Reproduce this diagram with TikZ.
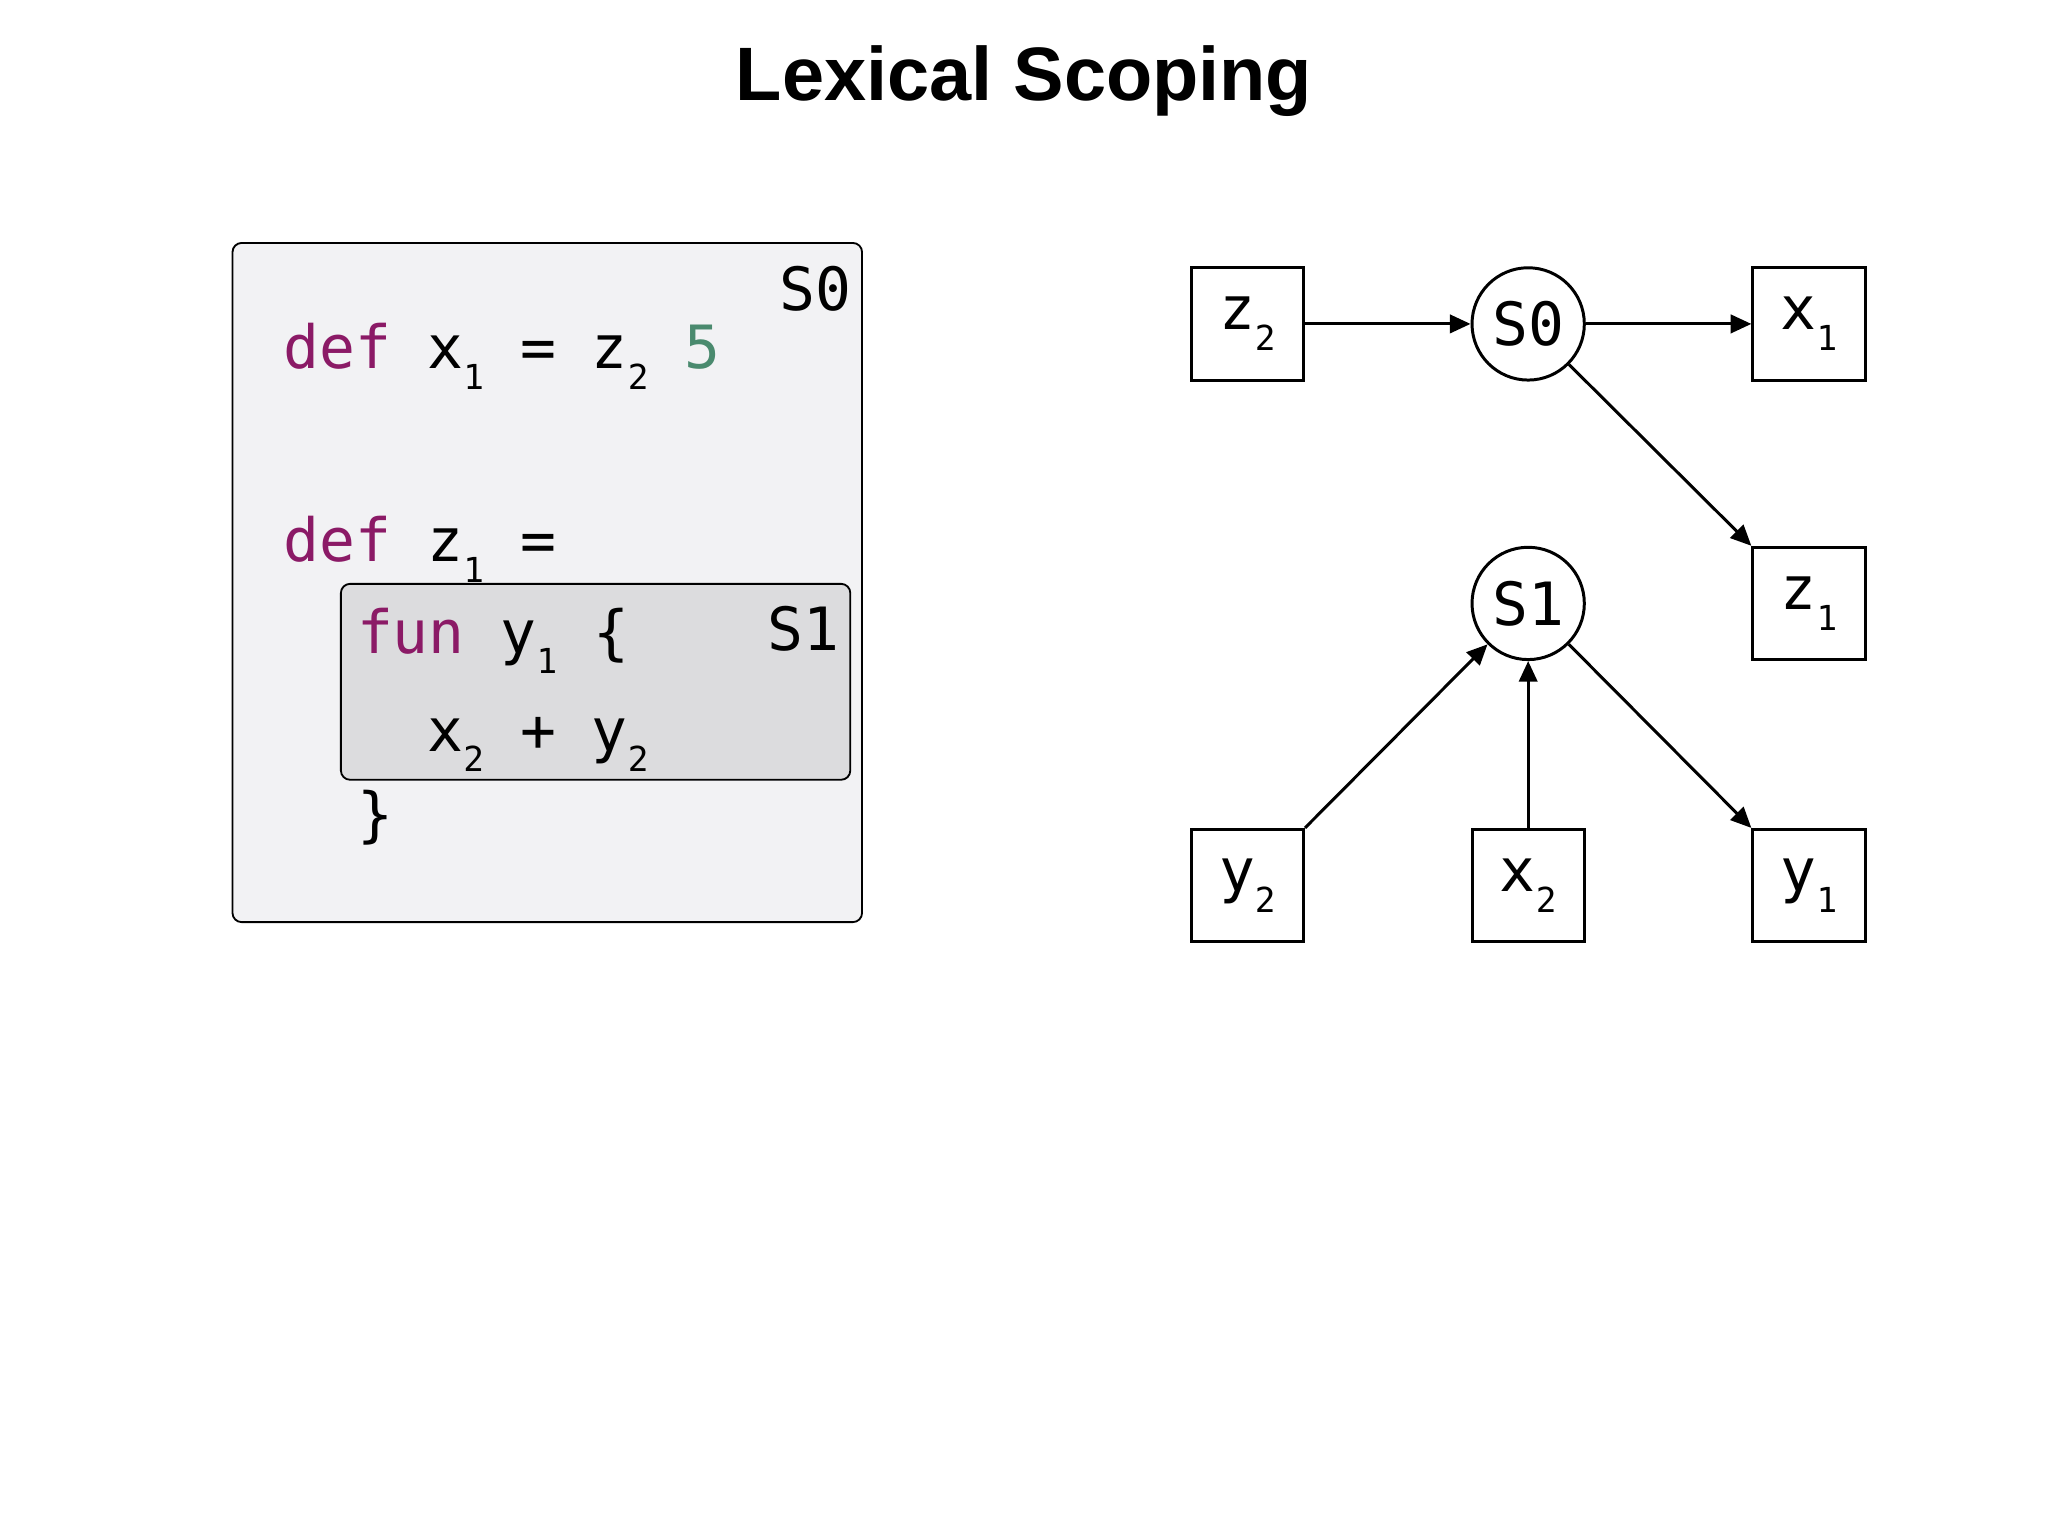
\documentclass[tikz,border=0pt]{standalone}
\usepackage{fontspec}
\setmainfont{Liberation Sans}
\setmonofont{DejaVu Sans Mono}
\usetikzlibrary{arrows.meta}
\definecolor{kw}{HTML}{8B1A66}
\definecolor{num}{HTML}{4A8A6E}
\definecolor{outer}{HTML}{F2F2F4}
\definecolor{inner}{HTML}{DCDCDE}
\newcommand{\lsub}[1]{\raisebox{-0.35em}{\fontsize{15}{15}\selectfont #1}}
\tikzset{
  code/.style={anchor=base west,inner sep=0pt,font=\fontsize{26}{30}\selectfont\ttfamily},
  vbox/.style={draw,line width=1.3pt,minimum size=1.72cm,inner sep=0pt,font=\fontsize{26}{30}\selectfont\ttfamily},
  vcirc/.style={draw,circle,line width=1.3pt,minimum size=1.72cm,inner sep=0pt,font=\fontsize{26}{30}\selectfont\ttfamily},
  arr/.style={line width=1.3pt,-{Triangle[length=9pt,width=8pt]}}
}
\begin{document}
\begin{tikzpicture}[x=0.02cm,y=-0.02cm]
\useasboundingbox (0,0) rectangle (1568,1176);
\fill[white] (0,0) rectangle (1568,1176);
\node[font=\fontsize{33}{40}\selectfont\bfseries] (title) at (784,62) {Lexical Scoping};
% code boxes
\draw[fill=outer,rounded corners=4pt,line width=0.8pt] (178,186) rectangle (660,706);
\draw[fill=inner,rounded corners=4pt,line width=0.8pt] (261,447) rectangle (651,597);
\node[code,anchor=base east] (s0lab) at (652,238) {S0};
\node[code,anchor=base east] (s1lab) at (643,498) {S1};
\node[code] (l1) at (217,282) {\textcolor{kw}{def} x\lsub{1} = z\lsub{2} \textcolor{num}{5}};
\node[code] (l2) at (217,430) {\textcolor{kw}{def} z\lsub{1} =};
\node[code] (l3) at (273,500) {\textcolor{kw}{fun} y\lsub{1} \{};
\node[code] (l4) at (327,575) {x\lsub{2} + y\lsub{2}};
\node[code] (l5) at (273,640) {\}};
% graph
\node[vbox] (z2) at (955,248) {z\lsub{2}};
\node[vcirc] (S0) at (1170,248) {S0};
\node[vbox] (x1) at (1385,248) {x\lsub{1}};
\node[vbox] (z1) at (1385,462) {z\lsub{1}};
\node[vcirc] (S1) at (1170,462) {S1};
\node[vbox] (y2) at (955,678) {y\lsub{2}};
\node[vbox] (x2) at (1170,678) {x\lsub{2}};
\node[vbox] (y1) at (1385,678) {y\lsub{1}};
\draw[arr] (z2) -- (S0);
\draw[arr] (S0) -- (x1);
\draw[arr] (S0) -- (z1.north west);
\draw[arr] (y2.north east) -- (S1);
\draw[arr] (x2) -- (S1);
\draw[arr] (S1) -- (y1.north west);
\end{tikzpicture}
\end{document}
